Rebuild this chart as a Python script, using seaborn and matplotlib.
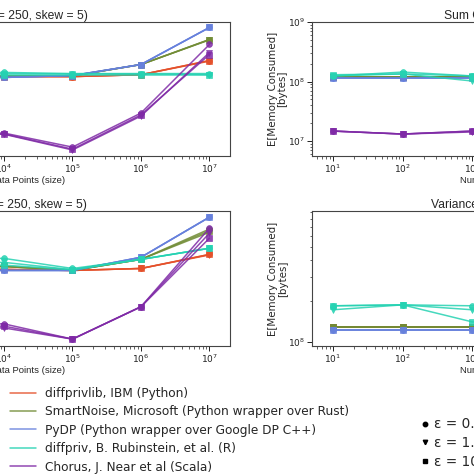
import numpy as np
import pandas as pd
import matplotlib
matplotlib.use("Agg")
import matplotlib.pyplot as plt
from matplotlib.lines import Line2D
from matplotlib.ticker import NullFormatter
import seaborn as sns

# ---------------- data ----------------
libraries = ["diffprivlib, IBM (Python)",
             "SmartNoise, Microsoft (Python wrapper over Rust)",
             "PyDP (Python wrapper over Google DP C++)",
             "diffpriv, B. Rubinstein, et al. (R)",
             "Chorus, J. Near et al (Scala)"]
lib_colors = ["#e4502a", "#718c35", "#6680dc", "#25d2b2", "#7f2aa6"]
epsilons = [0.1, 1.0, 10]
eps_labels = ["ε = 0.1", "ε = 1.0", "ε = 10"]
eps_markers = ["o", "v", "s"]

size_x = [1e1, 1e2, 1e3, 1e4, 1e5, 1e6, 1e7]
scale_x = [1e1, 1e2, 1e3, 1e4]

# top-left panel: memory vs data size (rows = epsilon 0.1, 1.0, 10)
tl_diffprivlib = [[1.2e8, 1.2e8, 1.2e8, 1.21e8, 1.21e8, 1.30e8, 2.25e8],
                  [1.2e8, 1.2e8, 1.2e8, 1.21e8, 1.21e8, 1.30e8, 2.20e8],
                  [1.2e8, 1.2e8, 1.2e8, 1.21e8, 1.21e8, 1.30e8, 2.25e8]]
tl_smartnoise = [[1.2e8, 1.2e8, 1.2e8, 1.24e8, 1.24e8, 1.93e8, 5.08e8],
                 [1.2e8, 1.2e8, 1.2e8, 1.24e8, 1.24e8, 1.93e8, 5.00e8],
                 [1.2e8, 1.2e8, 1.2e8, 1.24e8, 1.24e8, 1.93e8, 5.08e8]]
tl_pydp = [[1.15e8, 1.15e8, 1.15e8, 1.17e8, 1.26e8, 1.93e8, 8.09e8],
           [1.15e8, 1.15e8, 1.15e8, 1.17e8, 1.26e8, 1.93e8, 8.09e8],
           [1.15e8, 1.15e8, 1.15e8, 1.17e8, 1.26e8, 1.93e8, 8.09e8]]
tl_diffpriv = [[1.42e8, 1.42e8, 1.42e8, 1.42e8, 1.36e8, 1.36e8, 1.36e8],
               [1.36e8, 1.36e8, 1.36e8, 1.36e8, 1.34e8, 1.34e8, 1.31e8],
               [1.31e8, 1.31e8, 1.31e8, 1.31e8, 1.31e8, 1.31e8, 1.31e8]]
tl_chorus = [[1.4e7, 1.4e7, 1.4e7, 1.36e7, 7.9e6, 2.95e7, 4.19e8],
             [1.3e7, 1.3e7, 1.3e7, 1.30e7, 7.07e6, 2.63e7, 3.07e8],
             [1.3e7, 1.3e7, 1.3e7, 1.32e7, 7.3e6, 2.75e7, 2.84e8]]

# bottom-left panel
bl_diffprivlib = [[1.05e8, 1.05e8, 1.05e8, 1.06e8, 1.02e8, 1.10e8, 1.89e8],
                  [1.05e8, 1.05e8, 1.05e8, 1.06e8, 1.02e8, 1.10e8, 1.85e8],
                  [1.05e8, 1.05e8, 1.05e8, 1.06e8, 1.02e8, 1.10e8, 1.89e8]]
bl_smartnoise = [[1.15e8, 1.15e8, 1.15e8, 1.19e8, 1.02e8, 1.56e8, 5.0e8],
                 [1.15e8, 1.15e8, 1.15e8, 1.19e8, 1.02e8, 1.56e8, 4.43e8],
                 [1.15e8, 1.15e8, 1.15e8, 1.19e8, 1.02e8, 1.56e8, 4.7e8]]
bl_pydp = [[1.02e8, 1.02e8, 1.02e8, 1.02e8, 1.02e8, 1.69e8, 7.9e8],
           [1.02e8, 1.02e8, 1.02e8, 1.02e8, 1.02e8, 1.69e8, 7.9e8],
           [1.02e8, 1.02e8, 1.02e8, 1.02e8, 1.02e8, 1.69e8, 7.9e8]]
bl_diffpriv = [[1.62e8, 1.62e8, 1.62e8, 1.62e8, 1.10e8, 1.56e8, 2.39e8],
               [1.39e8, 1.39e8, 1.39e8, 1.39e8, 1.05e8, 1.56e8, 2.39e8],
               [1.25e8, 1.25e8, 1.25e8, 1.25e8, 1.05e8, 1.56e8, 2.39e8]]
bl_chorus = [[1.3e7, 1.3e7, 1.3e7, 1.31e7, 7.3e6, 2.53e7, 5.18e8],
             [1.15e7, 1.15e7, 1.15e7, 1.12e7, 7.3e6, 2.53e7, 4.27e8],
             [1.2e7, 1.2e7, 1.2e7, 1.2e7, 7.3e6, 2.53e7, 3.52e8]]

# top-right panel: memory vs scale
tr_diffprivlib = [[1.17e8, 1.17e8, 1.17e8, 1.17e8]] * 3
tr_smartnoise = [[1.18e8, 1.18e8, 1.18e8, 1.18e8]] * 3
tr_pydp = [[1.15e8, 1.15e8, 1.15e8, 1.15e8]] * 3
tr_diffpriv = [[1.24e8, 1.44e8, 1.24e8, 1.20e8],
               [1.24e8, 1.34e8, 1.02e8, 1.10e8],
               [1.30e8, 1.34e8, 1.24e8, 1.20e8]]
tr_chorus = [[1.47e7, 1.31e7, 1.47e7, 1.40e7],
             [1.47e7, 1.31e7, 1.42e7, 1.40e7],
             [1.47e7, 1.31e7, 1.47e7, 1.40e7]]

# bottom-right panel
br_diffprivlib = [[1.29e8, 1.29e8, 1.29e8, 1.29e8]] * 3
br_smartnoise = [[1.29e8, 1.29e8, 1.29e8, 1.29e8]] * 3
br_pydp = [[1.22e8, 1.22e8, 1.22e8, 1.22e8]] * 3
br_diffpriv = [[1.84e8, 1.87e8, 1.84e8, 1.80e8],
               [1.72e8, 1.87e8, 1.72e8, 1.70e8],
               [1.84e8, 1.87e8, 1.40e8, 1.40e8]]
br_chorus = [[1.4e7, 1.35e7, 1.4e7, 1.4e7]] * 3

titles = ["Counts (scale = 250, skew = 5)",
          "Sum Count (size = 10000, skew = 5)",
          "Means (scale = 250, skew = 5)",
          "Variance Calc. (size = 100000, skew = 5)"]
xlabels = ["Number of Data Points (size)", "Number of Distinct Data Values (scale)"]
ylabel = "E[Memory Consumed]\n[bytes]"


def long_frame(xs, per_lib):
    rows = []
    for lib, series in zip(libraries, per_lib):
        for eps, vals in zip(epsilons, series):
            for x, v in zip(xs, vals):
                rows.append({"x": x, "mem": v, "lib": lib, "eps": eps})
    return pd.DataFrame(rows)


panels = [
    (size_x, [tl_diffprivlib, tl_smartnoise, tl_pydp, tl_diffpriv, tl_chorus]),
    (scale_x, [tr_diffprivlib, tr_smartnoise, tr_pydp, tr_diffpriv, tr_chorus]),
    (size_x, [bl_diffprivlib, bl_smartnoise, bl_pydp, bl_diffpriv, bl_chorus]),
    (scale_x, [br_diffprivlib, br_smartnoise, br_pydp, br_diffpriv, br_chorus]),
]

# ---------------- style ----------------
sns.set_theme(style="ticks")
plt.rcParams["font.family"] = ["DejaVu Sans"]
plt.rcParams.update({
    "axes.edgecolor": "#444444",
    "axes.linewidth": 0.8,
    "xtick.major.size": 3.5, "ytick.major.size": 3.5,
    "xtick.minor.size": 1.8, "ytick.minor.size": 1.8,
    "xtick.major.width": 0.7, "ytick.major.width": 0.7,
    "xtick.minor.width": 0.5, "ytick.minor.width": 0.5,
    "xtick.labelsize": 6.5, "ytick.labelsize": 6.5,
    "xtick.color": "#222222", "ytick.color": "#222222",
})

W = 474.0
fig = plt.figure(figsize=(4.74, 4.74), dpi=100)

def rect(x0, x1, ytop, ybot):
    return [x0 / W, 1 - ybot / W, (x1 - x0) / W, (ybot - ytop) / W]

rects = [rect(-222, 230, 22, 156), rect(312, 772, 22, 156),
         rect(-222, 230, 211, 346), rect(312, 772, 211, 346)]
ylims = [(5.6e6, 1e9), (5.6e6, 1e9), (5.6e6, 1e9), (9.3e7, 9.2e8)]

palette = dict(zip(libraries, lib_colors))
markers = dict(zip(epsilons, eps_markers))

for i, ((xs, per_lib), r) in enumerate(zip(panels, rects)):
    ax = fig.add_axes(r)
    df = long_frame(xs, per_lib)
    sns.lineplot(data=df, x="x", y="mem", hue="lib", style="eps",
                 palette=palette, markers=markers, dashes=False,
                 markersize=4.2, linewidth=1.1, alpha=0.85,
                 legend=False, ax=ax,
                 hue_order=libraries, style_order=epsilons)
    for ln in ax.lines:
        ln.set_markeredgecolor(ln.get_color())
        ln.set_markeredgewidth(0.5)
    ax.set_xscale("log")
    ax.set_yscale("log")
    ax.set_xlim(10 ** 0.7, 10 ** 7.3)
    ax.set_ylim(*ylims[i])
    ax.yaxis.set_minor_formatter(NullFormatter())
    ax.xaxis.set_minor_formatter(NullFormatter())
    for s in ["top", "right"]:
        ax.spines[s].set_visible(True)
    ax.set_title(titles[i], fontsize=8.7, family=["Liberation Sans"], pad=2.5)
    ax.set_xlabel(xlabels[i % 2], fontsize=6.8, family=["Liberation Sans"], labelpad=0.5)
    ax.set_ylabel(ylabel, fontsize=7.4, labelpad=0.5, linespacing=0.95)
    ax.tick_params(axis="both", which="major", pad=1.2)

# ---------------- legends ----------------
lib_handles = [Line2D([], [], color=c, lw=1.1, alpha=0.85) for c in lib_colors]
fig.legend(lib_handles, libraries, loc="upper left",
           bbox_to_anchor=(5.5 / W, 1 - 382 / W), frameon=False,
           fontsize=8.7, labelspacing=0.45, handlelength=2.1,
           handletextpad=0.8, borderaxespad=0.0)

eps_handles = [Line2D([], [], color="black", ls="", marker=m, markersize=3.2)
               for m in eps_markers]
fig.legend(eps_handles, eps_labels, loc="upper left",
           bbox_to_anchor=(416 / W, 1 - 412 / W), frameon=False,
           fontsize=9.8, labelspacing=0.34, handlelength=0.5,
           handletextpad=0.4, borderaxespad=0.0)

fig.savefig("out.png", dpi=100)
